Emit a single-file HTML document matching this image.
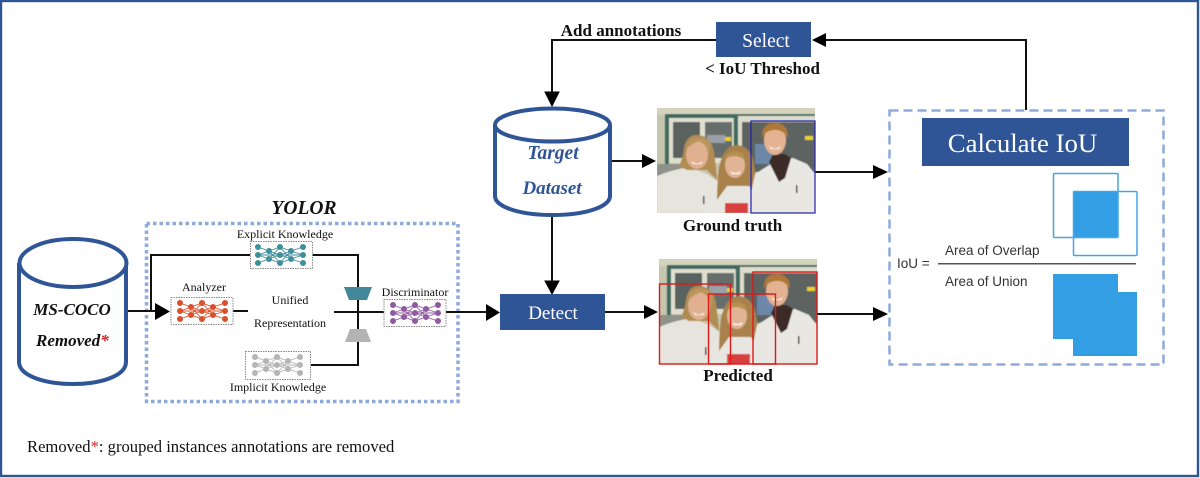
<!DOCTYPE html>
<html>
<head>
<meta charset="utf-8">
<style>
html,body{margin:0;padding:0;background:#fff;width:1200px;height:478px;overflow:hidden}
svg{display:block}
text{font-family:"Liberation Serif",serif;fill:#111}
.s{font-family:"Liberation Sans",sans-serif;fill:#333}
.l{stroke:#111;stroke-width:2;fill:none}
.db{fill:#fff;stroke:#2f5597;stroke-width:4}
.box{fill:#2f5597}
.nb{fill:#fff;stroke:#888;stroke-width:1;stroke-dasharray:1.5 1}
</style>
</head>
<body>
<svg width="1200" height="478" viewBox="0 0 1200 478" xmlns="http://www.w3.org/2000/svg">
<defs>
<filter id="b" x="-5%" y="-5%" width="110%" height="110%"><feGaussianBlur stdDeviation="0.6"/></filter>
<clipPath id="pc"><rect width="158" height="105"/></clipPath>
<g id="photo">
 <g clip-path="url(#pc)">
 <rect width="158" height="105" fill="#c6c5ad"/>
 <g filter="url(#b)">
 <rect x="0" y="0" width="158" height="7" fill="#d4d3be"/>
 <rect x="8" y="6" width="150" height="4" fill="#3f6b60"/>
 <rect x="8" y="6" width="4" height="60" fill="#3f6b60"/>
 <rect x="12" y="10" width="64" height="45" fill="#e0dfcf"/>
 <rect x="16" y="14" width="27" height="36" fill="#5a625e"/>
 <rect x="48" y="14" width="27" height="36" fill="#666e6c"/>
 <rect x="50" y="27" width="18" height="8" fill="#9aa0a8"/>
 <rect x="68" y="29" width="6" height="4" fill="#e8d030"/>
 <rect x="77" y="8" width="4" height="58" fill="#3f6b60"/>
 <rect x="81" y="8" width="77" height="56" fill="#dcdccc"/>
 <rect x="85" y="14" width="73" height="50" fill="#5b6460"/>
 <rect x="98" y="36" width="20" height="20" fill="#6d87a8"/>
 <rect x="148" y="28" width="8" height="4" fill="#e8d030"/>
 <rect x="0" y="56" width="30" height="49" fill="#8f9288"/>
 <path d="M0 105V68Q14 62 32 59L50 66L65 76L52 105Z" fill="#e6e4dd"/>
 <path d="M22 58Q26 50 27 40Q30 26 41 27Q54 28 57 44Q59 58 60 72L50 62L30 62Z" fill="#b08c52"/>
 <ellipse cx="40" cy="47" rx="11" ry="14" fill="#e0b090"/>
 <path d="M29 42Q36 34 44 33Q50 36 52 46L54 36Q48 28 38 30Q30 32 29 42Z" fill="#bb9660"/>
 <path d="M34 53Q40 58 46 53L44 56H36Z" fill="#fff"/>
 <path d="M46 105L56 84L72 76L96 76L112 88L116 105Z" fill="#e8e6e0"/>
 <path d="M60 92Q60 76 62 60Q66 38 80 37Q94 38 97 56Q100 76 102 94L92 78L70 78Z" fill="#a8814c"/>
 <ellipse cx="78" cy="57" rx="10" ry="13" fill="#e2b496"/>
 <path d="M68 52Q76 44 88 52L86 46Q78 40 70 46Z" fill="#b5904f"/>
 <path d="M73 63Q78 67 84 63L82 66H75Z" fill="#fff"/>
 <rect x="68" y="95" width="23" height="10" fill="#d84040"/>
 <path d="M95 105V80L98 66L120 52L136 50L150 56L158 66V105Z" fill="#e9e7e2"/>
 <path d="M112 54L120 70L122 74L128 70L134 50L128 46H116Z" fill="#3b2a26"/>
 <ellipse cx="118" cy="32" rx="11" ry="15" fill="#e3b391"/>
 <path d="M105 30Q104 15 118 15Q131 15 131 30Q126 21 116 22Q108 23 105 30Z" fill="#b07838"/>
 <path d="M112 38Q118 43 124 38L122 41H114Z" fill="#fff"/>
 <rect x="139" y="77" width="1.500" height="8" fill="#222"/>
 <rect x="46" y="88" width="1.500" height="8" fill="#222"/>
 </g>
 </g>
</g>
<g id="net">
 <path stroke-width=".9" fill="none" d="M0 0L11 4L22 0L33 4L45 0M0 8H45M0 16L11 12L22 16L33 12L45 16M0 8L11 4M0 8L11 12M22 8L11 4M22 8L11 12M22 8L33 4M22 8L33 12M45 8L33 4M45 8L33 12M11 4L22 16M11 12L22 0M33 4L22 16M33 12L22 0"/>
 <circle cx="0" cy="0" r="2.500"/><circle cx="0" cy="8" r="2.500"/><circle cx="0" cy="16" r="2.500"/>
 <circle cx="11" cy="4" r="2.500"/><circle cx="11" cy="12" r="2.500"/>
 <circle cx="22" cy="0" r="2.500"/><circle cx="22" cy="8" r="2.500"/><circle cx="22" cy="16" r="2.500"/>
 <circle cx="33" cy="4" r="2.500"/><circle cx="33" cy="12" r="2.500"/>
 <circle cx="45" cy="0" r="2.500"/><circle cx="45" cy="8" r="2.500"/><circle cx="45" cy="16" r="2.500"/>
</g>
</defs>

<rect x="1" y="1" width="1197" height="475" fill="#fff" stroke="#2f5597" stroke-width="2.400"/>

<!-- connectors -->
<path class="l" d="M716 40H552V96M552 216V284M612 161H648M605 312H650M815 172H878M817 314H878M1026 110V40H822"/>
<path d="M545 92H559L552 106Z" fill="#000" stroke="#000" stroke-width="1"/>
<path d="M545 281H559L552 294Z" fill="#000" stroke="#000" stroke-width="1"/>
<path d="M642 154L656 161L642 168Z" fill="#000"/>
<path d="M644 305L658 312L644 319Z" fill="#000"/>
<path d="M873 165L888 172L873 179Z" fill="#000"/>
<path d="M873 307L888 314L873 321Z" fill="#000"/>
<path d="M826 33L812 40L826 47Z" fill="#000"/>

<!-- MS-COCO cylinder -->
<path class="db" d="M19 263V362C19 375 43 384 73 384S126 375 126 362V263"/>
<ellipse class="db" cx="73" cy="263" rx="53.500" ry="24"/>
<text x="72" y="315" font-size="17" font-weight="bold" font-style="italic" text-anchor="middle">MS-COCO</text>
<text x="36" y="346" font-size="17" font-weight="bold" font-style="italic">Removed<tspan style="fill:#e02020">*</tspan></text>

<!-- Target cylinder -->
<path class="db" d="M495 125V196C495 207 520 215 552.500 215S610 207 610 196V125"/>
<ellipse class="db" cx="552.500" cy="125" rx="57.500" ry="16.500"/>
<text x="553" y="159" font-size="19.500" font-weight="bold" font-style="italic" text-anchor="middle" style="fill:#2f5597">Target</text>
<text x="552" y="194" font-size="19" font-weight="bold" font-style="italic" text-anchor="middle" style="fill:#2f5597">Dataset</text>

<!-- YOLOR -->
<text x="304" y="214" font-size="19.500" font-weight="bold" font-style="italic" text-anchor="middle">YOLOR</text>
<rect x="146.500" y="223.500" width="311.500" height="178" fill="none" stroke="#8eaadb" stroke-width="3.500" stroke-dasharray="3.500 3"/>
<path class="l" d="M128 311H160M151 311V255H250M312 255H358V365H311M233 311H248M334 312H384M446 312H490"/>
<path d="M155 303L170 311.500L155 320Z" fill="#000"/>
<path d="M486 304L500 312.500L486 321Z" fill="#000"/>

<rect class="nb" x="250.500" y="241.500" width="62" height="27"/>
<use href="#net" x="258" y="247" style="fill:#3f8e9c;stroke:#3f8e9c"/>
<rect class="nb" x="171" y="297.500" width="62" height="27"/>
<use href="#net" x="180" y="303" style="fill:#d9512c;stroke:#d9512c"/>
<rect class="nb" x="245.500" y="351.500" width="65" height="28"/>
<use href="#net" x="255" y="357" style="fill:#b5b5b5;stroke:#b5b5b5"/>
<rect class="nb" x="384" y="299.500" width="62" height="27"/>
<use href="#net" x="393" y="305" style="fill:#8f5aa0;stroke:#8f5aa0"/>

<path d="M344 287H372L367 300H349Z" fill="#43879b"/>
<path d="M350 329H366L371 342H345Z" fill="#b3b3b3"/>

<text x="285" y="238" font-size="12" text-anchor="middle">Explicit Knowledge</text>
<text x="204" y="291" font-size="12" text-anchor="middle">Analyzer</text>
<text x="290" y="304" font-size="12" text-anchor="middle">Unified</text>
<text x="290" y="327" font-size="12" text-anchor="middle">Representation</text>
<text x="415" y="296" font-size="12" text-anchor="middle">Discriminator</text>
<text x="278" y="391" font-size="12" text-anchor="middle">Implicit Knowledge</text>

<!-- boxes -->
<rect class="box" x="500" y="294" width="105" height="36"/>
<text x="553" y="319" font-size="19" text-anchor="middle" style="fill:#fff">Detect</text>
<rect class="box" x="716" y="22" width="95" height="35"/>
<text x="766" y="47" font-size="19.500" text-anchor="middle" style="fill:#fff">Select</text>
<text x="621" y="36" font-size="17" font-weight="bold" text-anchor="middle">Add annotations</text>
<text x="762.500" y="74" font-size="17" font-weight="bold" text-anchor="middle">&lt; IoU Threshod</text>

<!-- photos -->
<use href="#photo" x="657" y="108"/>
<rect x="751" y="121" width="64" height="92" fill="none" stroke="#2020b0" stroke-width="1.200"/>
<text x="732.500" y="231" font-size="17" font-weight="bold" text-anchor="middle">Ground truth</text>
<use href="#photo" x="659" y="259"/>
<g fill="none" stroke="#e01818" stroke-width="1.400">
<rect x="659.500" y="284" width="71" height="80"/>
<rect x="708.500" y="294" width="67" height="70"/>
<rect x="753" y="272" width="64" height="92"/>
</g>
<text x="738" y="381" font-size="17" font-weight="bold" text-anchor="middle">Predicted</text>

<!-- IoU panel -->
<rect x="889.500" y="110.500" width="274" height="254" fill="#fff" stroke="#8eaadb" stroke-width="2.500" stroke-dasharray="9 5"/>
<rect class="box" x="922" y="118" width="207" height="48"/>
<text x="1022.500" y="152" font-size="26.800" text-anchor="middle" style="fill:#fff">Calculate IoU</text>
<rect x="1073" y="191" width="45" height="46" fill="#339ee3"/>
<rect x="1053.500" y="173.500" width="64.500" height="64" rx="1" fill="none" stroke="#42a5e6" stroke-width="1.500"/>
<rect x="1073.500" y="191.500" width="63.500" height="64" rx="1" fill="none" stroke="#42a5e6" stroke-width="1.500"/>
<path d="M1053 274H1118V292H1137V356H1073V339H1053Z" fill="#339ee3"/>
<rect x="938" y="263" width="198" height="1.500" fill="#555"/>
<text class="s" x="897" y="268" font-size="13.500">IoU =</text>
<text class="s" x="945" y="255" font-size="13.500">Area of Overlap</text>
<text class="s" x="945" y="286" font-size="13.500">Area of Union</text>

<text x="27" y="452" font-size="16.600">Removed<tspan style="fill:#e02020">*</tspan>: grouped instances annotations are removed</text>
</svg>
</body>
</html>
